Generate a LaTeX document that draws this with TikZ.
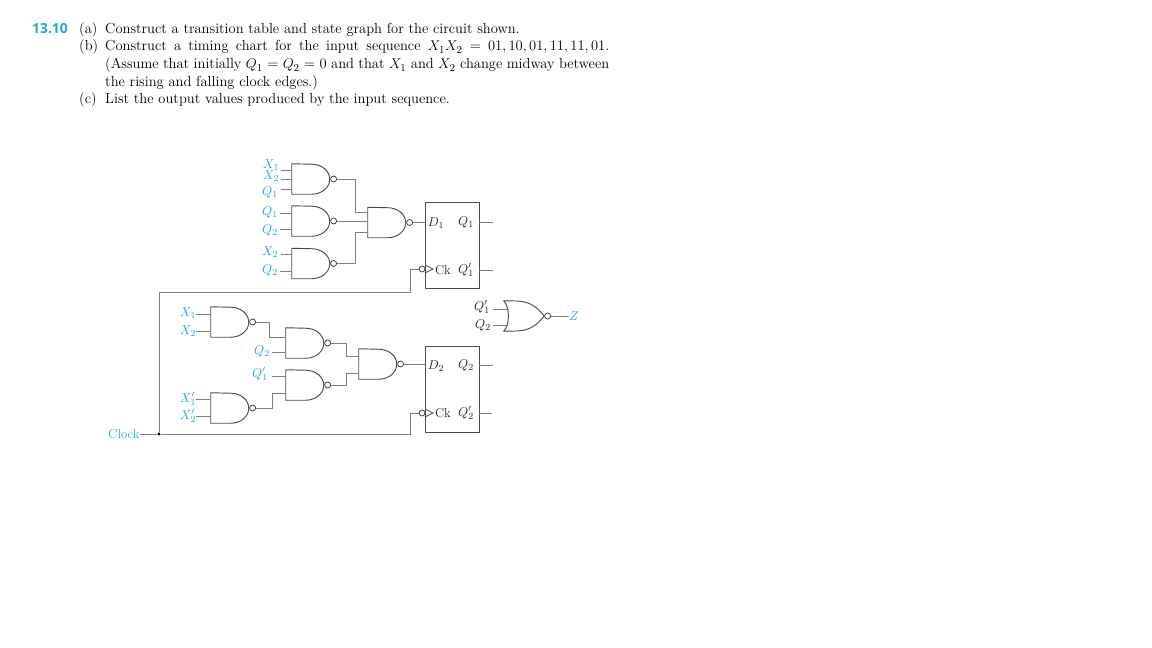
\documentclass[tikz,border=0pt]{standalone}
\usepackage{fontspec}
\newfontfamily\headfont{Open Sans}
\definecolor{probblue}{RGB}{38,166,209}
\tikzset{
    gatebox/.style={inner sep=0pt, minimum height=0.9cm, minimum width=1.14cm},
    gateline/.style={draw=black!70, line width=0.8pt},
    wire/.style={draw=black!50, line width=0.8pt},
    ffbox/.style={gateline, inner sep=0pt, minimum width=1.62cm, minimum height=2.58cm},
    bub/.style={circle, draw=black!75, line width=0.65pt, inner sep=0pt, minimum size=0.18cm},
    lab/.style={text=probblue, font=\fontsize{11}{11}\selectfont, inner sep=0pt},
    dlab/.style={text=black!85, font=\fontsize{11}{11}\selectfont, inner sep=0pt},
    txt/.style={anchor=base west, inner sep=0pt, text=black, font=\fontsize{12.4}{12}\selectfont},
}
% nand gate: name, centre of the body
\newcommand{\nandgate}[2]{
    \node[gatebox] (#1) at (#2) {};
    \draw[gateline] (#1.north west) -- (#1.south west) -- ++(20,0) arc[start angle=-90, end angle=90, x radius=0.54cm, y radius=0.45cm] -- cycle;
    \node[bub, anchor=west] (#1o) at (#1.east) {};
}
\begin{document}
\begin{tikzpicture}[x=0.03cm, y=-0.03cm]
    \useasboundingbox (0,0) rectangle (1152,648);

    % problem text
    \node[txt, text=probblue, font=\headfont\bfseries\fontsize{11.8}{12}\selectfont] (num) at (32,33.5) {13.10};
    \node[txt] (pa) at (79,33.5) {(a)};
    \node[txt] (pb) at (79,51) {(b)};
    \node[txt] (pc) at (79,104) {(c)};
    \node[txt] (l1) at (105,33.5) {Construct a transition table and state graph for the circuit shown.};
    \node[txt] (l2) at (105,51) {\makebox[15.12cm][s]{Construct a timing chart for the input sequence $X_1X_2$ = 01,\,10,\,01,\,11,\,11,\,01.}};
    \node[txt] (l3) at (105,69) {\makebox[15.12cm][s]{(Assume that initially $Q_1$ = $Q_2$ = 0 and that $X_1$ and $X_2$ change midway between}};
    \node[txt] (l4) at (105,87) {the rising and falling clock edges.)};
    \node[txt] (l5) at (105,104) {List the output values produced by the input sequence.};

    % gates
    \nandgate{g1}{311,179}
    \nandgate{g2}{311,221}
    \nandgate{g3}{311,263.5}
    \nandgate{g4}{387,222.5}
    \nandgate{g5}{230,322}
    \nandgate{g6}{305,343}
    \nandgate{g7}{305,385}
    \nandgate{g8}{230,408}
    \nandgate{g9}{378,364}
    % nor gate
    \node[gatebox, minimum width=1.2cm] (g10) at (524,316) {};
    \draw[gateline] (g10.north west) .. controls (510,308) and (510,324) .. (g10.south west) -- (516,331) .. controls (530,331) and (538,324) .. (g10.east) .. controls (538,308) and (530,301) .. (516,301) -- cycle;
    \node[bub, anchor=west] (g10o) at (g10.east) {};

    % flip-flops
    \node[ffbox] (ff1) at (452,245) {};
    \node[ffbox] (ff2) at (452,389) {};
    \draw[gateline, line width=0.65pt] (425,265) -- (433,269) -- (425,273);
    \draw[gateline, line width=0.65pt] (425,409) -- (433,413) -- (425,417);
    \node[bub] (ck1) at (422,269) {};
    \node[bub] (ck2) at (422,413) {};
    \node[dlab] (d1) at (436,223) {$D_1$};
    \node[dlab] (q1) at (466,222) {$Q_1$};
    \node[dlab] (c1) at (443,270) {Ck};
    \node[dlab] (n1) at (466,270) {$Q'_1$};
    \node[dlab] (d2) at (436,366) {$D_2$};
    \node[dlab] (q2) at (466,365) {$Q_2$};
    \node[dlab] (c2) at (443,413) {Ck};
    \node[dlab] (n2) at (466,413) {$Q'_2$};

    % input labels
    \node[lab] (a1) at (271,165) {$X_1$};
    \node[lab] (a2) at (271,176) {$X_2$};
    \node[lab] (a3) at (270,192) {$Q_1$};
    \node[lab] (b1) at (270,212) {$Q_1$};
    \node[lab] (b2) at (270,230) {$Q_2$};
    \node[lab] (e1) at (270,252) {$X_2$};
    \node[lab] (e2) at (270,270) {$Q_2$};
    \node[lab] (f1) at (188,313) {$X_1$};
    \node[lab] (f2) at (188,331) {$X_2$};
    \node[lab] (h1) at (262,351) {$Q_2$};
    \node[lab] (h2) at (260,374) {$Q'_1$};
    \node[lab] (k1) at (188,399) {$X'_1$};
    \node[lab] (k2) at (188,416) {$X'_2$};
    \node[dlab] (m1) at (482,307) {$Q'_1$};
    \node[dlab] (m2) at (483,325) {$Q_2$};
    \node[lab] (zz) at (574,316) {$Z$};
    \node[lab] (clk) at (124,434) {Clock};

    % clock dot and turning points
    \node[circle, fill=black, inner sep=0pt, minimum size=0.1cm] (dot) at (159,434) {};
    \coordinate (t1) at (410,292);
    \coordinate (t2) at (410,434);
    \coordinate (r1) at (355,212);
    \coordinate (r2) at (355,232);
    \coordinate (r3) at (269,337);
    \coordinate (r4) at (272,393);
    \coordinate (r5) at (346,356);
    \coordinate (r6) at (346,373);

    % stubs on the inputs
    \draw[wire] (281,170) coordinate (s1) -- (s1 -| g1.west);
    \draw[wire] (281,179) coordinate (s2) -- (s2 -| g1.west);
    \draw[wire] (281,189) coordinate (s3) -- (s3 -| g1.west);
    \draw[wire] (280,213) coordinate (s4) -- (s4 -| g2.west);
    \draw[wire] (280,229) coordinate (s5) -- (s5 -| g2.west);
    \draw[wire] (281,254) coordinate (s6) -- (s6 -| g3.west);
    \draw[wire] (280,271) coordinate (s7) -- (s7 -| g3.west);
    \draw[wire] (196,314) coordinate (s8) -- (s8 -| g5.west);
    \draw[wire] (196,331) coordinate (s9) -- (s9 -| g5.west);
    \draw[wire] (272,352) coordinate (s10) -- (s10 -| g6.west);
    \draw[wire] (272,376) coordinate (s11) -- (s11 -| g7.west);
    \draw[wire] (196,399) coordinate (s12) -- (s12 -| g8.west);
    \draw[wire] (196,416) coordinate (s13) -- (s13 -| g8.west);
    \draw[wire] (493,309) coordinate (s14) -- (508.5,309);
    \draw[wire] (493,325) coordinate (s15) -- (507.5,325);

    % gate to gate
    \draw[wire] (g1o.east) -| (r1) -- (r1 -| g4.west);
    \draw[wire] (g2o.east) -- (g2o.east -| g4.west);
    \draw[wire] (g3o.east) -| (r2) -- (r2 -| g4.west);
    \draw[wire] (g5o.east) -| (r3) -- (r3 -| g6.west);
    \draw[wire] (g8o.east) -| (r4) -- (r4 -| g7.west);
    \draw[wire] (g6o.east) -| (r5) -- (r5 -| g9.west);
    \draw[wire] (g7o.east) -| (r6) -- (r6 -| g9.west);
    \draw[wire] (g4o.east) -- (g4o.east -| ff1.west);
    \draw[wire] (g9o.east) -- (g9o.east -| ff2.west);
    \draw[wire] (g10o.east) -- (zz.west);

    % flip-flop outputs
    \draw[wire] (ff1.east |- q1) -- ++(14,0);
    \draw[wire] (ff1.east |- n1) -- ++(14,0);
    \draw[wire] (ff2.east |- q2) -- ++(14,0);
    \draw[wire] (ff2.east |- n2) -- ++(13,0);

    % clock
    \draw[wire] (clk.east) -- (dot);
    \draw[wire] (dot) -- (t2) |- (ck2.west);
    \draw[wire] (dot) |- (t1) |- (ck1.west);
\end{tikzpicture}
\end{document}
